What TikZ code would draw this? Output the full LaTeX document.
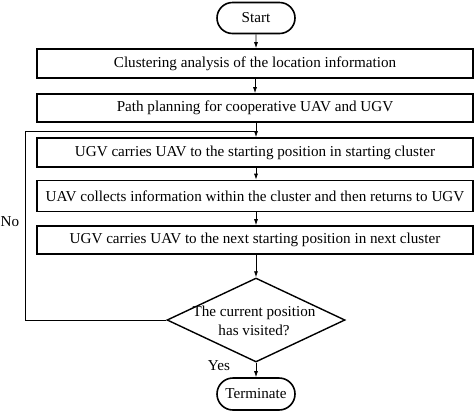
\documentclass[tikz,border=0pt]{standalone}
\usepackage{fontspec}
\setmainfont{Liberation Serif}
\usetikzlibrary{shapes.geometric,shapes.misc,arrows.meta}
\begin{document}
\begin{tikzpicture}[x=1bp,y=-1bp,
  txt/.style={font=\fontsize{15.2}{19}\selectfont},
  proc/.style={draw,line width=1.6bp,rectangle,minimum width=436bp,inner sep=0pt,txt},
  term/.style={draw,line width=1.6bp,rounded rectangle,minimum width=78bp,minimum height=31bp,inner sep=0pt,txt},
  dec/.style={draw,line width=1.4bp,diamond,aspect=2.1,minimum width=178bp,minimum height=84bp,inner sep=0pt},
  arr/.style={-{Latex[length=6bp,width=4bp]},line width=0.8bp},
  lab/.style={txt,inner sep=0pt}]
\useasboundingbox (0,0) rectangle (474,411);
\node[term] (start) at (256,18) {Start};
\node[proc,minimum height=29bp] (b1) at (255,63.5) {Clustering analysis of the location information};
\node[proc,minimum height=28bp] (b2) at (255,108) {Path planning for cooperative UAV and UGV};
\node[proc,minimum height=29bp] (b3) at (255,152.5) {UGV carries UAV to the starting position in starting cluster};
\node[proc,minimum height=31bp] (b4) at (255,196) {UAV collects information within the cluster and then returns to UGV};
\node[proc,minimum height=28bp] (b5) at (255,240) {UGV carries UAV to the next starting position in next cluster};
\node[dec] (d) at (256,320) {};
\node[lab,align=center] (dt) at (254,321) {The current position\\has visited?};
\node[term,minimum height=32bp] (end) at (256,394) {Terminate};
\coordinate (j) at (256,131);
\coordinate (c1) at (25,320);
\coordinate (c2) at (25,131);
\draw[arr] (start) -- (start |- b1.north);
\draw[arr] (b1) -- (b1 |- b2.north);
\draw[arr] (b2.south -| j) -- (j |- b3.north);
\draw[arr] (b3.south -| j) -- (j |- b4.north);
\draw[arr] (b4.south -| j) -- (j |- b5.north);
\draw[arr] (b5.south -| d) -- (d.north);
\draw[arr] (d.south) -- (end.north);
\draw[line width=0.8bp] (d.west) -- (c1) -- (c2) -- (j);
\node[lab] (no) at (10,222) {No};
\node[lab] (yes) at (219,366) {Yes};
\end{tikzpicture}
\end{document}
